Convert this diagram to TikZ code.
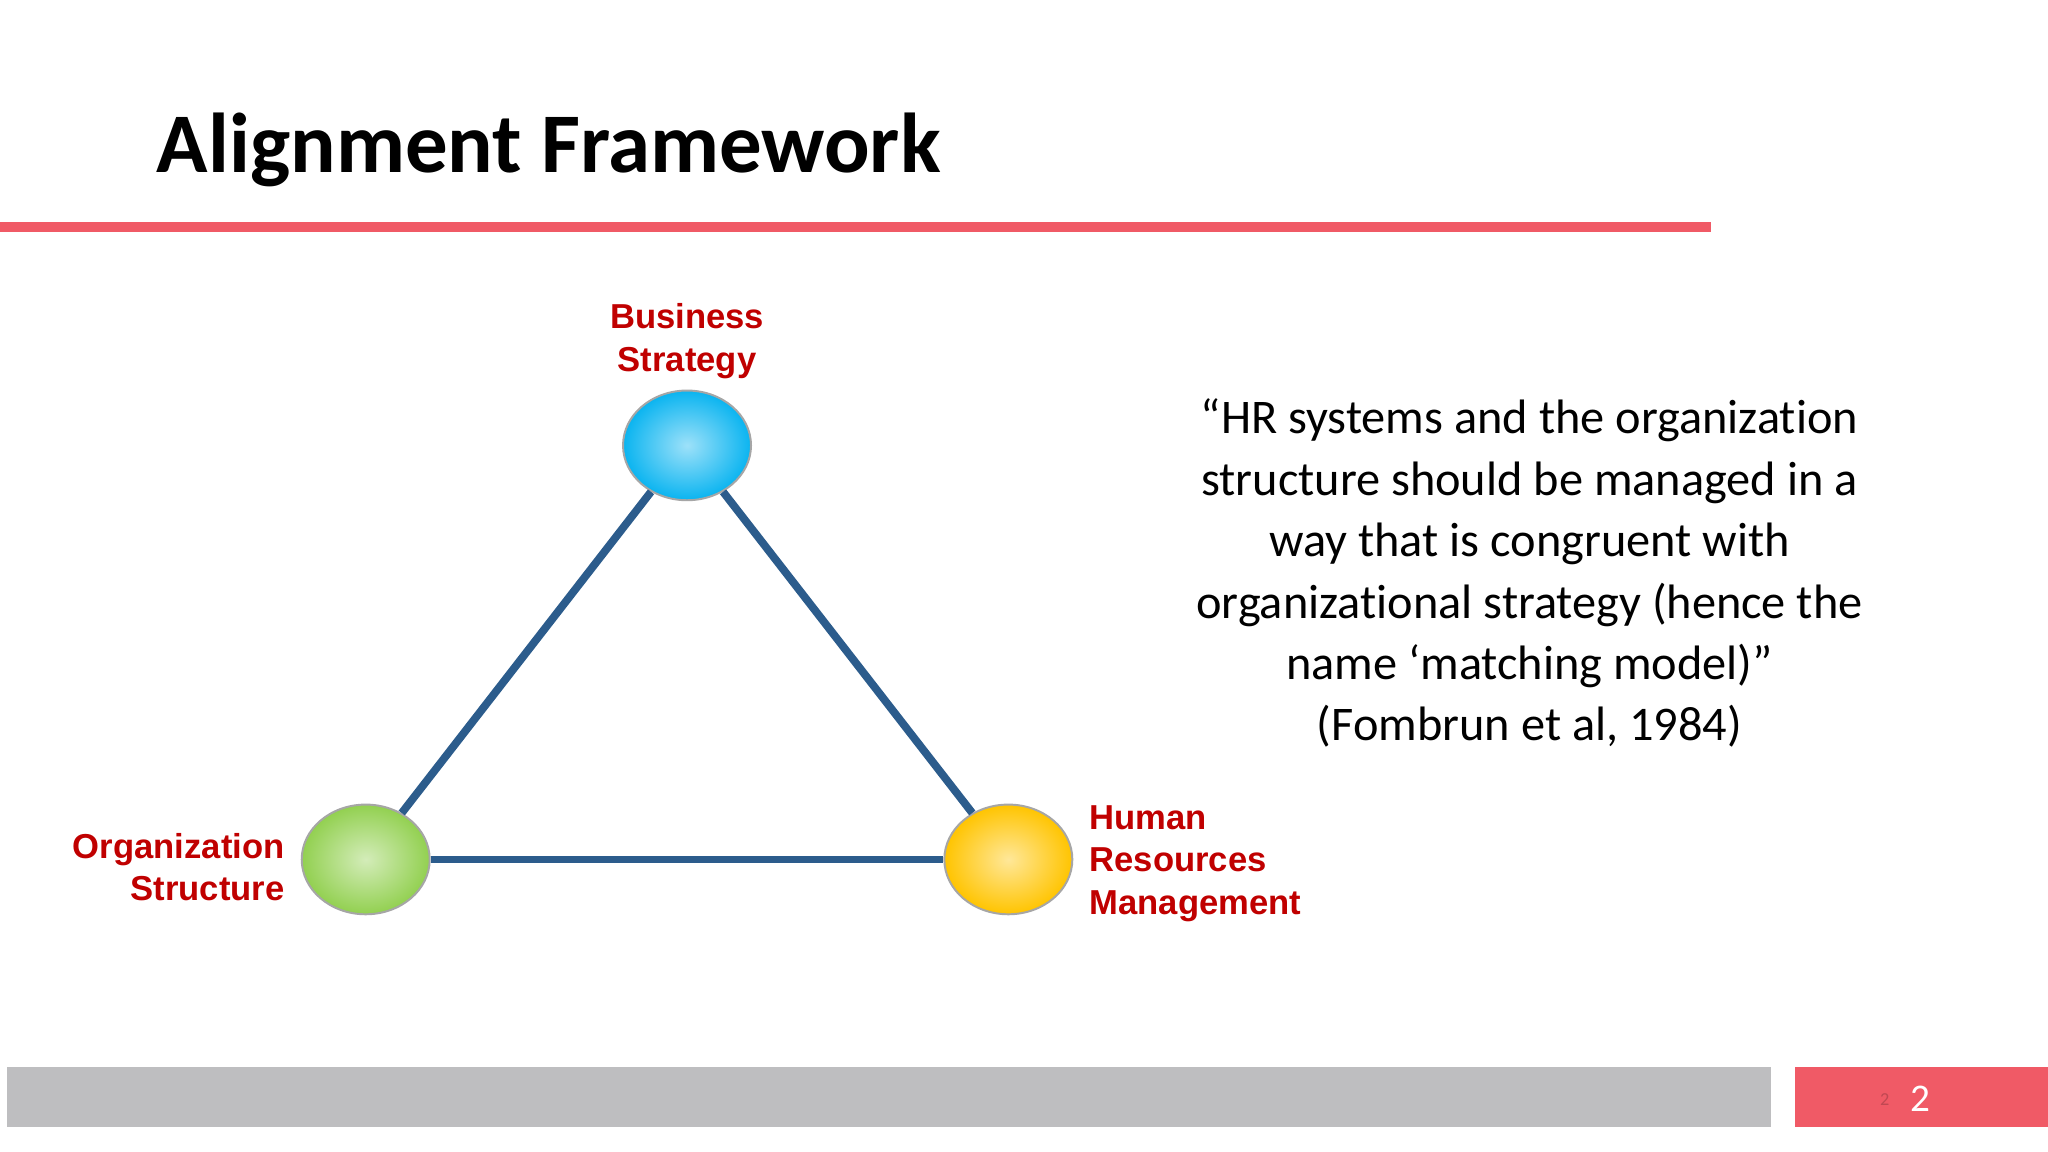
\documentclass[tikz,border=0pt]{standalone}
\usepackage{fontspec}
\setmainfont[Ligatures=NoCommon]{Carlito}
\newfontfamily\lab{Liberation Sans}
\definecolor{redline}{RGB}{240,90,102}
\definecolor{graybar}{RGB}{190,190,192}
\definecolor{edge}{RGB}{44,92,140}
\definecolor{labred}{RGB}{192,0,0}
\definecolor{cblue}{RGB}{10,180,240}
\definecolor{cgreen}{RGB}{146,208,80}
\definecolor{cyellow}{RGB}{255,196,0}
\tikzset{
  ball/.style={ellipse, minimum width=98pt, minimum height=84pt, draw=black!35, line width=1.5pt, inner sep=0pt},
  lbl/.style={font=\lab\bfseries\fontsize{26.5}{32.5}\selectfont, text=labred, inner sep=0pt},
  con/.style={edge, line width=6pt}
}
\usetikzlibrary{shapes.geometric}
\begin{document}
\begin{tikzpicture}[x=1pt,y=-1pt]
\useasboundingbox (0,0) rectangle (1568,882);
\fill[white] (0,0) rectangle (1568,882);
\node[anchor=base west, font=\bfseries\fontsize{65}{70}\selectfont, inner sep=0pt] (title) at (120,132) {Alignment Framework};
\fill[redline] (0,170) rectangle (1310,178);
\fill[graybar] (5,817) rectangle (1356,863);
\fill[redline] (1374,817) rectangle (1568,863);
\node[text=white, font=\fontsize{30}{36}\selectfont] (pg) at (1470,841) {2};
\node[text=redline!80!black, font=\fontsize{14}{16}\selectfont] (pgs) at (1443,842) {2};
\node[ball, shade, inner color=cblue!40, outer color=cblue] (bs) at (526,341) {};
\node[ball, shade, inner color=cgreen!40, outer color=cgreen] (os) at (280,658) {};
\node[ball, shade, inner color=cyellow!40, outer color=cyellow] (hr) at (772,658) {};
\draw[con] (bs) -- (os);
\draw[con] (bs) -- (hr);
\draw[con] (os) -- (hr);
\node[lbl, align=center, anchor=south] (lbs) at (526,290) {Business\\Strategy};
\node[lbl, align=right, anchor=east] (los) at (218,664) {Organization\\Structure};
\node[lbl, align=left, anchor=west] (lhr) at (834,661) {Human\\Resources\\Management};
\node[align=center, font=\fontsize{37}{47}\selectfont, inner sep=0pt] (q) at (1171,439) {“HR systems and the organization\\structure should be managed in a\\way that is congruent with\\organizational strategy (hence the\\name ‘matching model)”\\(Fombrun et al, 1984)};
\end{tikzpicture}
\end{document}
